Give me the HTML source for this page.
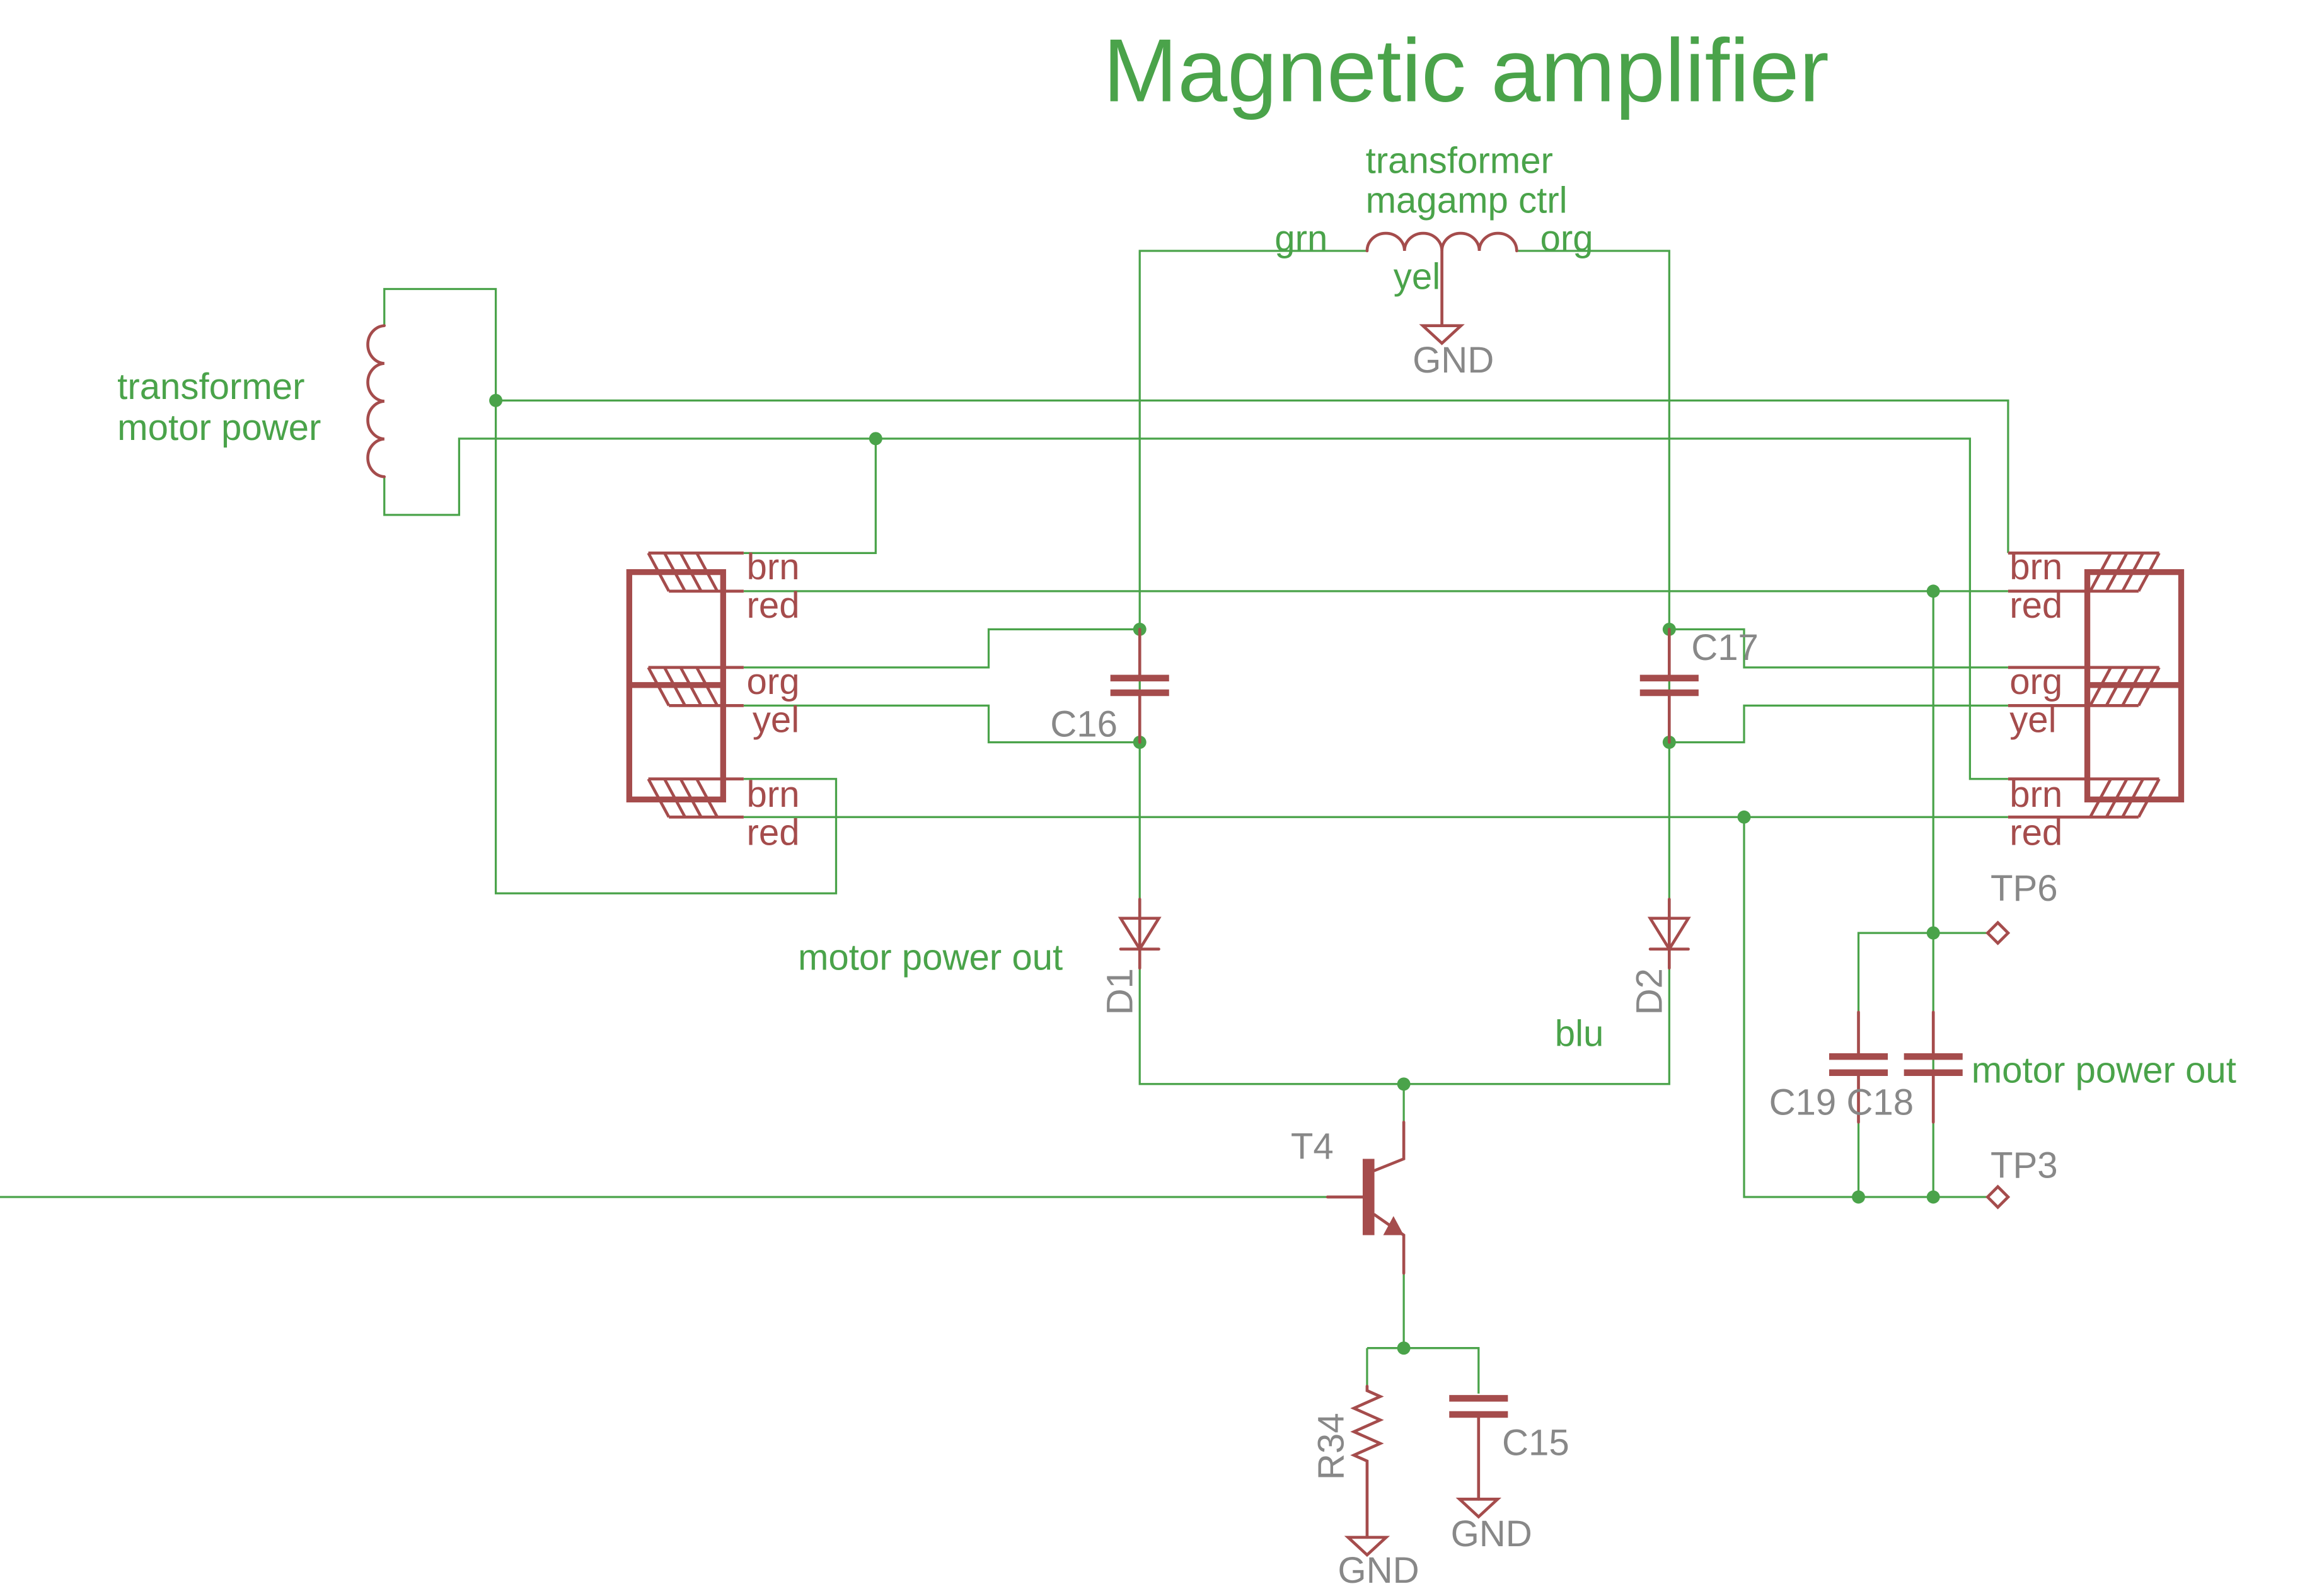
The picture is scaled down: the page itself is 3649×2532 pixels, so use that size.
<!DOCTYPE html>
<html><head><meta charset="utf-8"><style>html,body{margin:0;padding:0;background:#fff}svg{display:block}</style></head>
<body>
<svg width="3649" height="2532" viewBox="0 0 1568 1088" xmlns="http://www.w3.org/2000/svg" font-family="Liberation Sans, sans-serif">
<g fill="none" stroke="#4aa34a" stroke-width="1.4">
<polyline points="932,171 777,171 777,613"/>
<polyline points="1034,171 1138,171 1138,613"/>
<polyline points="262,222 262,197 338,197 338,609 570,609 570,531 507,531"/>
<polyline points="262,325 262,351 313,351 313,299 1343,299 1343,531 1369,531"/>
<polyline points="338,273 1369,273 1369,377"/>
<polyline points="597,299 597,377 507,377"/>
<line x1="507" y1="403" x2="1369" y2="403"/>
<polyline points="1318,403 1318,816"/>
<polyline points="507,455 674,455 674,429 777,429"/>
<polyline points="507,481 674,481 674,506 777,506"/>
<polyline points="1138,429 1189,429 1189,455 1369,455"/>
<polyline points="1369,481 1189,481 1189,506 1138,506"/>
<line x1="507" y1="557" x2="1369" y2="557"/>
<polyline points="1189,557 1189,816 1355,816"/>
<polyline points="777,660 777,739 1138,739 1138,660"/>
<line x1="957" y1="739" x2="957" y2="765"/>
<line x1="0" y1="816" x2="905" y2="816"/>
<polyline points="957,868 957,919"/>
<polyline points="932,919 1008,919 1008,950"/>
<line x1="932" y1="919" x2="932" y2="945"/>
<polyline points="1267,720 1267,636 1355,636"/>
<line x1="1267" y1="731" x2="1267" y2="816"/>
</g>
<g fill="#4aa34a">
<circle cx="338" cy="273" r="4.5"/><circle cx="597" cy="299" r="4.5"/>
<circle cx="777" cy="429" r="4.5"/><circle cx="777" cy="506" r="4.5"/>
<circle cx="1138" cy="429" r="4.5"/><circle cx="1138" cy="506" r="4.5"/>
<circle cx="1318" cy="403" r="4.5"/><circle cx="1189" cy="557" r="4.5"/>
<circle cx="957" cy="739" r="4.5"/><circle cx="957" cy="919" r="4.5"/>
<circle cx="1318" cy="636" r="4.5"/><circle cx="1267" cy="816" r="4.5"/><circle cx="1318" cy="816" r="4.5"/>
</g>
<g fill="none" stroke="#a54c4c" stroke-width="2" stroke-linecap="round">
<path d="M932,171 a12.75,12 0 0 1 25.5,0 a12.75,12 0 0 1 25.5,0 a12.75,12 0 0 1 25.5,0 a12.75,12 0 0 1 25.5,0"/>
<line x1="983" y1="171" x2="983" y2="222"/>
<polygon points="970,222 996,222 983,234"/>
<path d="M262,222 a12,12.9 0 0 0 0,25.75 a12,12.9 0 0 0 0,25.75 a12,12.9 0 0 0 0,25.75 a12,12.9 0 0 0 0,25.75"/>
<line x1="777" y1="429" x2="777" y2="462"/><line x1="777" y1="472" x2="777" y2="506"/>
<line x1="1138" y1="429" x2="1138" y2="462"/><line x1="1138" y1="472" x2="1138" y2="506"/>
<line x1="777" y1="613" x2="777" y2="660"/><polygon points="764,626 790,626 777,647"/><line x1="764" y1="647" x2="790" y2="647"/>
<line x1="1138" y1="613" x2="1138" y2="660"/><polygon points="1125,626 1151,626 1138,647"/><line x1="1125" y1="647" x2="1151" y2="647"/>
<polyline points="957,765 957,790 937,798"/>
<line x1="905" y1="816" x2="929" y2="816"/>
<polyline points="937,828 957,842 957,868"/>
<polyline points="932,945 932,948 941,952 923,960 941,968 923,976 941,984 923,992 932,996 932,1048"/>
<polygon points="919,1048 945,1048 932,1060"/>
<line x1="1008" y1="964" x2="1008" y2="1022"/>
<polygon points="995,1022 1021,1022 1008,1034"/>
<line x1="1318" y1="690" x2="1318" y2="720"/><line x1="1318" y1="731" x2="1318" y2="765"/>
<line x1="1267" y1="690" x2="1267" y2="720"/><line x1="1267" y1="731" x2="1267" y2="765"/>
<polygon points="1355,636 1362,629 1369,636 1362,643"/>
<polygon points="1355,816 1362,809 1369,816 1362,823"/>
</g>
<g fill="#a54c4c" stroke="none">
<rect x="929" y="790" width="8" height="52"/>
<polygon points="957,842 943,842 950,829"/>
<rect x="757" y="460" width="40" height="4.5"/><rect x="757" y="470" width="40" height="4.5"/>
<rect x="1118" y="460" width="40" height="4.5"/><rect x="1118" y="470" width="40" height="4.5"/>
<rect x="988" y="951" width="40" height="4.5"/><rect x="988" y="962" width="40" height="4.5"/>
<rect x="1247" y="718" width="40" height="4.5"/><rect x="1247" y="729" width="40" height="4.5"/>
<rect x="1298" y="718" width="40" height="4.5"/><rect x="1298" y="729" width="40" height="4.5"/>
</g>
<g fill="none" stroke="#a54c4c">
<rect x="429" y="390" width="64" height="155" stroke-width="4"/>
<line x1="429" y1="467" x2="493" y2="467" stroke-width="4"/>
<rect x="1423" y="390" width="64" height="155" stroke-width="4"/>
<line x1="1423" y1="467" x2="1487" y2="467" stroke-width="4"/>
<g stroke-width="2">
<g id="wl">
<line x1="442" y1="377" x2="507" y2="377"/><line x1="456" y1="403" x2="507" y2="403"/>
<line x1="442" y1="377" x2="456" y2="403"/><line x1="453" y1="377" x2="467" y2="403"/><line x1="464" y1="377" x2="478" y2="403"/><line x1="475" y1="377" x2="489" y2="403"/>
</g>
<use href="#wl" y="78"/><use href="#wl" y="154"/>
<g id="wr">
<line x1="1369" y1="377" x2="1472" y2="377"/><line x1="1369" y1="403" x2="1458" y2="403"/>
<line x1="1472" y1="377" x2="1458" y2="403"/><line x1="1461" y1="377" x2="1447" y2="403"/><line x1="1450" y1="377" x2="1436" y2="403"/><line x1="1439" y1="377" x2="1425" y2="403"/>
</g>
<use href="#wr" y="78"/><use href="#wr" y="154"/>
</g>
</g>
<g fill="#4aa34a" font-size="25">
<text x="752" y="69" font-size="61">Magnetic amplifier</text>
<text x="931" y="118">transformer</text>
<text x="931" y="145">magamp ctrl</text>
<text x="869" y="171">grn</text>
<text x="1050" y="171">org</text>
<text x="950" y="197">yel</text>
<text x="80" y="272">transformer</text>
<text x="80" y="300">motor power</text>
<text x="544" y="661">motor power out</text>
<text x="1060" y="713">blu</text>
<text x="1344" y="738">motor power out</text>
</g>
<g fill="#a54c4c" font-size="25">
<text x="509" y="395">brn</text><text x="509" y="421">red</text>
<text x="509" y="473">org</text><text x="513" y="499">yel</text>
<text x="509" y="550">brn</text><text x="509" y="576">red</text>
<text x="1370" y="395">brn</text><text x="1370" y="421">red</text>
<text x="1370" y="473">org</text><text x="1370" y="499">yel</text>
<text x="1370" y="550">brn</text><text x="1370" y="576">red</text>
</g>
<g fill="#888" font-size="25">
<text x="963" y="254">GND</text>
<text x="716" y="502">C16</text>
<text x="1153" y="450">C17</text>
<text x="772" y="692" transform="rotate(-90 772 692)">D1</text>
<text x="1133" y="692" transform="rotate(-90 1133 692)">D2</text>
<text x="880" y="790">T4</text>
<text x="1357" y="614">TP6</text>
<text x="1357" y="803">TP3</text>
<text x="1206" y="760">C19 C18</text>
<text x="1024" y="992">C15</text>
<text x="989" y="1054">GND</text>
<text x="916" y="1009" transform="rotate(-90 916 1009)">R34</text>
<text x="912" y="1079">GND</text>
</g>
</svg>
</body></html>
